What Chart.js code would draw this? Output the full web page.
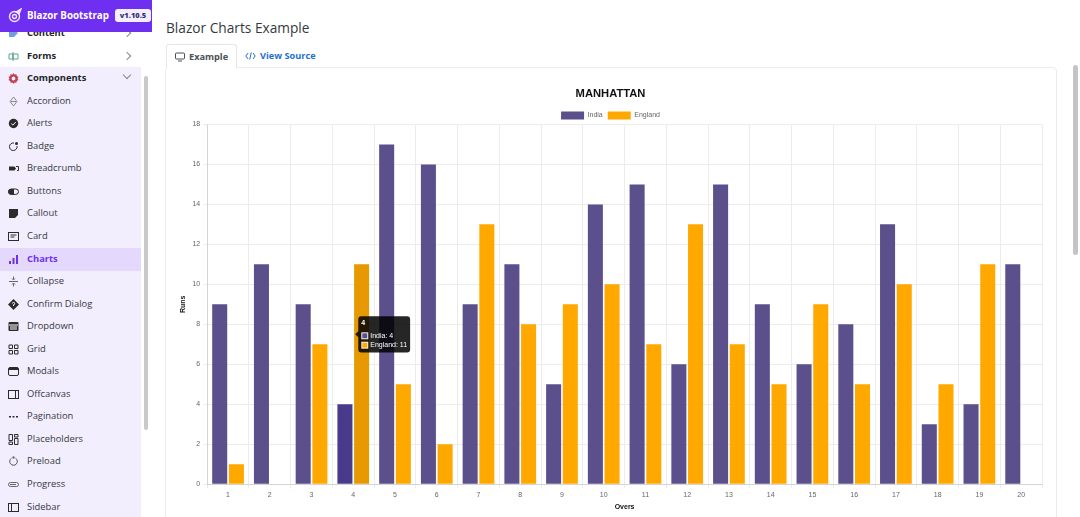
<!DOCTYPE html>
<html>
<head>
<meta charset="utf-8">
<title>Blazor Charts Example</title>
<script src="https://cdn.jsdelivr.net/npm/chart.js@4"></script>
<style>
    * { box-sizing: border-box; }
    html, body { margin: 0; height: 100%; overflow: hidden; background: #fff; font-family: "Open Sans", "Noto Sans", sans-serif; color: #343a40; }
    svg { display: block; }
    .brand { position: absolute; left: 0; top: 0; width: 152px; height: 32px; background: #6f2ff0; color: #fff; font-size: 9.8px; font-weight: 700; line-height: 31px; padding-left: 27px; }
    .brand svg { position: absolute; left: 8px; top: 8px; }
    .brand b { position: absolute; left: 115px; top: 9px; width: 36px; height: 13px; background: #f4effd; color: #41367a; border-radius: 3px; font-size: 7.5px; line-height: 13px; text-align: center; }
    .nav { position: absolute; left: 0; top: 32px; width: 152px; height: 485px; overflow: hidden; font-size: 9.4px; }
    .panel { position: absolute; left: 0; top: 35px; width: 141px; height: 450px; background: #f3eefe; }
    .track { position: absolute; left: 144px; top: 44px; width: 4px; height: 354px; background: #c9c9c9; border-radius: 2px; }
    .row { position: absolute; left: 0; width: 141px; height: 23px; line-height: 22px; padding-left: 27px; white-space: nowrap; }
    .row.bold { font-weight: 700; color: #212529; }
    .row.on { background: #e4d9fd; color: #6f2ff0; font-weight: 700; }
    .row svg { position: absolute; left: 8px; top: 6px; }
    .row u { position: absolute; left: 124px; top: 8px; width: 6px; height: 6px; border-top: 1px solid #888; border-right: 1px solid #888; transform: rotate(45deg); }
    .row u.open { transform: rotate(135deg); left: 124px; top: 5px; }
    h1 { position: absolute; left: 166px; top: 18px; margin: 0; font-size: 13.7px; font-weight: 400; line-height: 20px; }
    .tabs { position: absolute; left: 166px; top: 44px; height: 24px; font-size: 9.2px; font-weight: 700; line-height: 24px; }
    .tab-a { position: absolute; left: 0; top: 0; width: 71px; height: 25px; border: 1px solid #e6e6e6; border-bottom: 1px solid #fff; border-radius: 3px 3px 0 0; background: #fff; padding-left: 22px; color: #495057; z-index: 2; }
    .tab-a svg { position: absolute; left: 8px; top: 7px; }
    .tab-b { position: absolute; left: 94px; top: 0; width: 70px; color: #1f6fd1; }
    .tab-b svg { position: absolute; left: -15px; top: 7px; }
    .card { position: absolute; left: 165px; top: 67px; width: 892px; height: 470px; border: 1px solid #ececec; border-radius: 4px; }
    .chart-box { position: absolute; left: 168px; top: 78px; width: 890px; height: 433px; }
    .scroll { position: absolute; left: 1073px; top: 65px; width: 5px; height: 190px; background: #c4c4c4; border-radius: 3px; }
</style>
</head>
<body>
<div class="brand"><svg width="15" height="15" viewBox="0 0 15 15" fill="none" stroke="#efe6ff" stroke-width="1.4"><circle cx="6.5" cy="8.5" r="5"/><circle cx="6.5" cy="8.5" r="2"/><path d="M8 4 L13 1 L11 6 Z" fill="#efe6ff"/></svg>Blazor Bootstrap<b>v1.10.5</b></div>
<div class="nav" id="nav"><div class="panel"></div><div class="track"></div></div>
<h1>Blazor Charts Example</h1>
<div class="tabs">
    <div class="tab-a"><svg width="10" height="10" viewBox="0 0 10 10" fill="none" stroke="#495057"><rect x="0.5" y="1" width="9" height="6" rx="1"/><path d="M3 9h4"/></svg>Example</div>
    <div class="tab-b"><svg width="11" height="10" viewBox="0 0 11 10" fill="none" stroke="#1f6fd1"><path d="M3 2 L0.8 5 L3 8M8 2 L10.2 5 L8 8M6.3 1.5 L4.7 8.5"/></svg>View Source</div>
</div>
<div class="card"></div>
<div class="chart-box"><canvas id="manhattan"></canvas></div>
<div class="scroll"></div>
<script>
// --- DATA ---
const overs = ['1','2','3','4','5','6','7','8','9','10','11','12','13','14','15','16','17','18','19','20'];
const indiaRuns = [9,11,9,4,17,16,9,11,5,14,15,6,15,9,6,8,13,3,4,11];
const englandRuns = [1,0,7,11,5,2,13,8,9,10,7,13,7,5,9,5,10,5,11,0];
const navItems = ['Content','Forms','Components','Accordion','Alerts','Badge','Breadcrumb','Buttons','Callout','Card','Charts','Collapse','Confirm Dialog','Dropdown','Grid','Modals','Offcanvas','Pagination','Placeholders','Preload','Progress','Sidebar'];

// --- SIDEBAR ICONS ---
const line = 'fill="none" stroke="currentColor"';
const solid = 'fill="currentColor"';
const navIcons = {
    Content: `<path ${solid} d="M1 2h5l4 3-4 4H1z"/>`,
    Forms: `<path ${line} d="M1 3h4v5H1zM5 3h5v5H5zM5 1v9"/>`,
    Components: `<path ${solid} fill-rule="evenodd" d="M5.5 0l1 1.6 1.9-.4.4 1.9 1.7 1-1 1.4 1 1.4-1.7 1-.4 1.9-1.9-.4-1 1.6-1-1.6-1.9.4-.4-1.9-1.7-1 1-1.4-1-1.4 1.7-1 .4-1.9 1.9.4zM5.5 3.6a1.9 1.9 0 1 0 0 3.8 1.9 1.9 0 0 0 0-3.8z"/>`,
    Accordion: `<path ${line} d="M5.5 1L9 5.5 5.5 10 2 5.5zM3 5.5h5"/>`,
    Alerts: `<circle ${solid} cx="5.5" cy="5.5" r="4.7"/><path fill="none" stroke="#fff" d="M3.3 5.6l1.6 1.5 2.8-3"/>`,
    Badge: `<path ${line} d="M6 2a3.8 3.8 0 1 0 3 3"/><circle ${solid} cx="8.5" cy="2.5" r="1.5"/>`,
    Breadcrumb: `<path ${solid} d="M1 3.5h5.5l1.5 2-1.5 2H1z"/><path ${line} d="M8 3.5h2.5v4H9"/>`,
    Buttons: `<rect ${line} x="0.5" y="3" width="10" height="5.4" rx="2.7"/><path ${solid} d="M3 3h3v5.4H3a2.7 2.7 0 0 1 0-5.4z"/>`,
    Callout: `<path ${solid} d="M1 1h9v6l-3 3H1z"/>`,
    Card: `<rect ${line} x="0.5" y="1.5" width="10" height="8"/><path ${solid} d="M2.5 3.5h6v1h-6zM2.5 5.5h4v1h-4z"/>`,
    Charts: `<path ${solid} d="M1 7h2v3H1zM4.5 4h2v6h-2zM8 1h2v9H8z"/>`,
    Collapse: `<path ${line} d="M1 5.5h9M5.5 0.5v3M5.5 7.5v3M4 2.5l1.5 1.5L7 2.5M4 8.5L5.5 7 7 8.5"/>`,
    'Confirm Dialog': `<path ${solid} d="M5.5 0L11 5.5 5.5 11 0 5.5z"/><path fill="none" stroke="#fff" d="M4.3 4.5a1.2 1.2 0 1 1 1.2 1.3V7"/>`,
    Dropdown: `<rect ${solid} x="0.5" y="1" width="10" height="9" rx="1"/><path fill="none" stroke="#fff" d="M1 4h9M2 6h7M2 8h7"/>`,
    Grid: `<path ${line} d="M1 1h3.5v3.5H1zM6.5 1H10v3.5H6.5zM1 6.5h3.5V10H1zM6.5 6.5H10V10H6.5z"/>`,
    Modals: `<rect ${line} x="0.5" y="1.5" width="10" height="8" rx="1.5"/><path ${solid} d="M1 2h9v2H1z"/>`,
    Offcanvas: `<rect ${line} x="0.5" y="1.5" width="10" height="8"/><path ${line} d="M7.5 1.5v8"/>`,
    Pagination: `<path ${solid} d="M1 5h2v1.4H1zM4.5 5h2v1.4h-2zM8 5h2v1.4H8z"/>`,
    Placeholders: `<path ${line} d="M1 0.5h3.5v6H1zM1 8h3.5v2.5H1zM6.5 0.5H10v2.5H6.5zM6.5 4.5H10v6H6.5z"/>`,
    Preload: `<path ${line} d="M7.5 2.2a3.8 3.8 0 1 1-4 0"/><path ${solid} d="M4.5 0.5h2v2h-2z"/>`,
    Progress: `<rect ${line} x="0.5" y="3.5" width="10" height="4" rx="2"/><path ${solid} d="M2 5h6v1H2z"/>`,
    Sidebar: `<rect ${line} x="0.5" y="1.5" width="10" height="8"/><path ${line} d="M3.5 1.5v8"/>`
};
const navColors = { Content: '#6f9fe0', Forms: '#5fa88e', Components: '#c2404f', Accordion: '#888', Charts: '#6f2ff0', Collapse: '#666', Preload: '#555', Progress: '#666' };

// --- SIDEBAR ---
const nav = document.getElementById('nav');
navItems.forEach((name, i) => {
    const row = document.createElement('div');
    row.className = 'row' + (i < 3 ? ' bold' : '') + (name === 'Charts' ? ' on' : '');
    row.style.top = (i * 22.55 - 10) + 'px';
    const color = navColors[name] || '#2b2b2b';
    row.innerHTML = `<svg width="11" height="11" viewBox="0 0 11 11" style="color:${color}">${navIcons[name]}</svg>` + name + (i === 0 || i === 1 ? '<u></u>' : i === 2 ? '<u class="open"></u>' : '');
    nav.appendChild(row);
});

// --- CHART ---
// legend sits closer to the plot than Chart.js leaves by default
const legendMasCerca = {
    id: 'legendMasCerca',
    beforeInit(chart) {
        const fit = chart.legend.fit;
        chart.legend.fit = function() {
            fit.call(this);
            this.height -= 5;
        };
    }
};

const grafico = new Chart(document.getElementById('manhattan'), {
    type: 'bar',
    data: {
        labels: overs,
        datasets: [
            { label: 'India', data: indiaRuns, backgroundColor: '#5b4f8c' },
            { label: 'England', data: englandRuns, backgroundColor: '#ffa800' }
        ]
    },
    plugins: [legendMasCerca],
    options: {
        responsive: true,
        maintainAspectRatio: false,
        animation: false,
        layout: { padding: { left: 11, right: 16, top: 0, bottom: 0 } },
        plugins: {
            title: { display: true, text: 'MANHATTAN', color: '#111', font: { family: 'Liberation Sans', size: 11.2, weight: 'bold' }, padding: { top: 9, bottom: 6 } },
            legend: { labels: { boxWidth: 23, boxHeight: 8, padding: 5, color: '#666', font: { family: 'Liberation Sans', size: 7 } } },
            tooltip: {
                mode: 'index',
                intersect: false,
                padding: 3,
                boxWidth: 7,
                boxHeight: 7,
                titleFont: { family: 'Liberation Sans', size: 7, weight: 'bold' },
                bodyFont: { family: 'Liberation Sans', size: 7 },
                titleMarginBottom: 4,
                bodySpacing: 1,
                caretSize: 3,
                cornerRadius: 3,
                backgroundColor: 'rgba(0,0,0,0.85)'
            }
        },
        scales: {
            x: {
                title: { display: true, text: 'Overs', color: '#111', font: { family: 'Liberation Sans', size: 7, weight: 'bold' }, padding: { top: 0, bottom: 0 } },
                ticks: { color: '#666', font: { family: 'Liberation Sans', size: 7 }, maxRotation: 0 },
                grid: { color: '#ececec', tickLength: 4 }
            },
            y: {
                min: 0,
                max: 18,
                title: { display: true, text: 'Runs', color: '#111', font: { family: 'Liberation Sans', size: 7, weight: 'bold' }, padding: { top: 0, bottom: 2 } },
                ticks: { stepSize: 2, color: '#666', font: { family: 'Liberation Sans', size: 7 } },
                grid: { color: '#ececec', tickLength: 4 }
            }
        }
    }
});

// tooltip open on over 4, as in the reference
const activos = [{ datasetIndex: 0, index: 3 }, { datasetIndex: 1, index: 3 }];
const punto = { x: grafico.scales.x.getPixelForValue(3) - 2, y: grafico.scales.y.getPixelForValue(7.83) };
grafico.setActiveElements(activos);
grafico.tooltip.setActiveElements(activos, punto);
grafico.update();
</script>
</body>
</html>
